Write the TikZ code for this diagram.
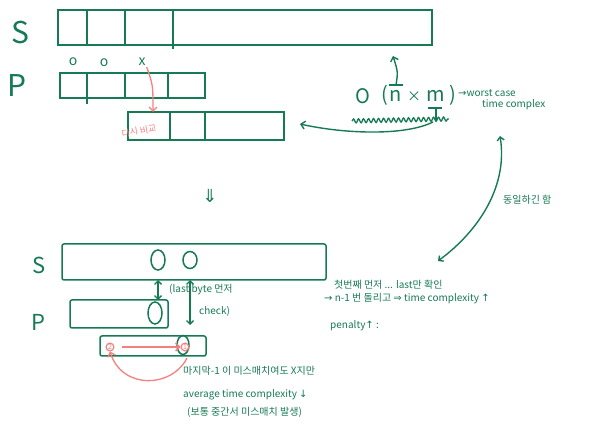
\documentclass[tikz,border=0pt]{standalone}
\usepackage{fontspec}
\setmainfont{Noto Sans CJK KR}
\newfontfamily\symf{DejaVu Sans}
\usetikzlibrary{arrows.meta,decorations.pathmorphing,shapes.geometric}
\definecolor{gr}{RGB}{22,122,84}
\definecolor{pk}{RGB}{244,128,128}
\begin{document}
\begin{tikzpicture}[x=1pt,y=-1pt,
  box/.style={draw=gr,line width=1.5pt,inner sep=0pt,outer sep=0pt,anchor=north west},
  rbox/.style={box,rounded corners=2pt},
  div/.style={draw=gr,line width=1.5pt},
  lbl/.style={text=gr,inner sep=1pt,font=\fontsize{10}{11}\selectfont},
  big/.style={text=gr,inner sep=0pt,font=\fontsize{30}{30}\selectfont},
  redlbl/.style={text=pk,inner sep=1pt,font=\fontsize{9}{9}\selectfont},
  garrow/.style={draw=gr,line width=1.4pt,-{Straight Barb[length=4pt,width=8pt]}},
  gdarrow/.style={draw=gr,line width=1.4pt,{Straight Barb[length=3.5pt,width=7pt]}-{Straight Barb[length=3.5pt,width=7pt]}},
  rarrow/.style={draw=pk,line width=1.3pt,-{Straight Barb[length=4pt,width=8pt]}},
  circ/.style={draw=gr,line width=1.5pt,ellipse,inner sep=0pt},
  rcirc/.style={draw=pk,line width=1.2pt,circle,inner sep=0.5pt,text=pk,font=\fontsize{7}{7}\selectfont}]
\useasboundingbox (0,0) rectangle (589,443);

% ---------- top part ----------
\node[big] (Stop) at (20,33) {S};
\node[big] (Ptop) at (17,86) {P};
\node[box,minimum width=374pt,minimum height=35pt] (S1) at (58,10) {};
\draw[div] (87,10) -- (87,45);
\draw[div] (125,10) -- (125,44);
\draw[div] (173,10) -- (173,49);

\node[box,minimum width=145pt,minimum height=25pt] (P1) at (60,73) {};
\draw[div] (87,73) -- (87,104);
\draw[div] (125,73) -- (125,98);
\draw[div] (168,73) -- (168,98);
\node[lbl,font=\fontsize{14}{14}\selectfont] (m1) at (73,62) {o};
\node[lbl,font=\fontsize{14}{14}\selectfont] (m2) at (104,63) {o};
\node[lbl,font=\fontsize{14}{14}\selectfont] (m3) at (142,62) {x};

\node[box,minimum width=156pt,minimum height=28pt] (R1) at (128,112) {};
\draw[div] (170,112) -- (170,140);
\draw[div] (205,112) -- (205,140);
\draw[rarrow] (m3.south east) .. controls (153,85) .. (R1.north west -| 153,0);
\node[redlbl,rotate=10] (again) at (139,131) {다시 비교};

% O(n x m)
\node[text=gr,inner sep=0pt,font=\fontsize{20}{20}\selectfont] (bigO) at (363,96) {O};
\node[text=gr,inner sep=0pt,font=\fontsize{20}{20}\selectfont] (lp) at (385,95) {(};
\node[text=gr,inner sep=0pt,font=\fontsize{20}{20}\selectfont] (nn) at (396,96) {n};
\node[text=gr,inner sep=0pt,font=\fontsize{14}{14}\selectfont] (tx) at (414,97) {×};
\node[text=gr,inner sep=0pt,font=\fontsize{20}{20}\selectfont] (mm) at (436,96) {m};
\node[text=gr,inner sep=0pt,font=\fontsize{20}{20}\selectfont] (rp) at (453,95) {)};
\coordinate (ntop) at (396,85);
\draw[div] (389,85) -- (403,85);
\draw[div] (428,108) -- (442,108);
\draw[div] (436,108) -- (436,120);
\draw[garrow] (ntop) .. controls (398,72) .. (393,56);
\node[lbl,anchor=west] (worst) at (457,93) {{\symf→}worst case};
\node[lbl,anchor=west] (tc) at (481,105) {time complex};
\coordinate (wavyA) at (352,121);
\coordinate (wavyB) at (449,119);
\draw[gr,line width=1.3pt,decorate,decoration={snake,amplitude=2pt,segment length=5pt}] (wavyA) -- (wavyB);
\coordinate (cstart) at (433,122);
\coordinate (cend) at (300,124);
\draw[garrow] (cstart) .. controls (405,136) and (345,134) .. (cend);

% right curved double arrow
\coordinate (dA) at (500,136);
\coordinate (dB) at (438,261);
\draw[gdarrow] (dA) .. controls (508,185) and (480,230) .. (dB);
\node[lbl,anchor=west] (same) at (502,200) {동일하긴 함};

% down arrow
\node[text=gr,inner sep=0pt,font=\symf\fontsize{18}{18}\selectfont] (dbl) at (210,196) {⇓};

% ---------- bottom part ----------
\node[text=gr,inner sep=0pt,font=\fontsize{22}{22}\selectfont] (Sbot) at (39,265) {S};
\node[text=gr,inner sep=0pt,font=\fontsize{22}{22}\selectfont] (Pbot) at (38,322) {P};
\node[rbox,minimum width=264pt,minimum height=36pt] (S2) at (62,244) {};
\node[circ,minimum width=14pt,minimum height=20pt] (c1) at (158,260) {};
\node[circ,minimum width=14pt,minimum height=17pt] (c2) at (190,260) {};

\node[rbox,minimum width=98pt,minimum height=28pt] (P2) at (70,300) {};
\node[circ,minimum width=14pt,minimum height=22pt] (c3) at (155,313) {};

\draw[gdarrow] (S2.south -| 158,0) -- (P2.north -| 158,0);
\coordinate (longb) at (190,325);
\draw[gdarrow] (S2.south -| 190,0) -- (longb);
\node[lbl,anchor=west] (lastb) at (168,290) {(last byte 먼저};
\node[lbl,anchor=west] (check) at (198,311) {check)};

\node[rbox,minimum width=106pt,minimum height=20pt] (R2) at (100,336) {};
\node[rcirc] (two) at (110,347) {2};
\node[circ,minimum width=12pt,minimum height=19pt] (c4) at (183,345) {};
\node[rcirc] (one) at (185,347) {1};
\draw[rarrow] (two.east) ++(8,0) -- (one.west);
\draw[rarrow] (187,358) .. controls (172,388) and (122,390) .. (two.south);

\node[lbl,anchor=west] (last1) at (182,371) {마지막-1 이 미스매치여도 X지만};
\node[lbl,anchor=west] (avg) at (182,395) {average time complexity {\symf↓}};
\node[lbl,anchor=west] (usual) at (186,412) {(보통 중간서 미스매치 발생)};

% right texts
\node[lbl,anchor=west] (first) at (333,285) {첫번째 먼저 ... last만 확인};
\node[lbl,anchor=west] (nminus) at (323,299) {{\symf→} n-1 번 돌리고 {\symf⇒} time complexity {\symf↑}};
\node[lbl,anchor=west] (pen) at (329,326) {penalty{\symf↑} :};
\end{tikzpicture}
\end{document}
